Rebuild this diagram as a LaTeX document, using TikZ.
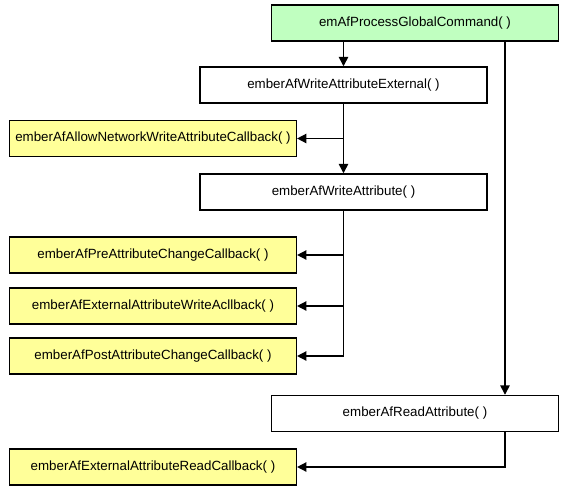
\documentclass[tikz,border=0pt]{standalone}
\usepackage{fontspec}
\setmainfont{Liberation Sans}
\usepackage{tikz}
\usetikzlibrary{arrows.meta}
\definecolor{cbgreen}{RGB}{192,255,192}
\definecolor{cbyellow}{RGB}{255,255,153}
\tikzstyle{fnbox} = [draw=black, line width=1.1pt, rectangle, minimum width=215pt, minimum height=27pt, inner sep=0pt, font=\fontsize{10}{12}\selectfont, fill=white]
\tikzstyle{cbbox} = [fnbox, fill=cbyellow]
\tikzstyle{link} = [draw=black, line width=1.1pt, -{Triangle[length=7pt,width=7pt]}]

\begin{document}
\begin{tikzpicture}[x=0.75pt, y=-0.75pt]
	\useasboundingbox (0,0) rectangle (565,490);
	% main calls
	\node [fnbox, fill=cbgreen] (global) at (415,23) {emAfProcessGlobalCommand( )};
	\node [fnbox] (writeext) at (343.5,85) {emberAfWriteAttributeExternal( )};
	\node [fnbox] (write) at (343.5,192) {emberAfWriteAttribute( )};
	\node [fnbox] (read) at (415,413.5) {emberAfReadAttribute( )};
	% callbacks
	\node [cbbox] (allow) at (153,138.5) {emberAfAllowNetworkWriteAttributeCallback( )};
	\node [cbbox] (pre) at (153,255) {emberAfPreAttributeChangeCallback( )};
	\node [cbbox] (extwrite) at (153,306) {emberAfExternalAttributeWriteAcllback( )};
	\node [cbbox] (post) at (153,356) {emberAfPostAttributeChangeCallback( )};
	\node [cbbox] (extread) at (153,467) {emberAfExternalAttributeReadCallback( )};
	% connectors
	\coordinate (gsplit) at (505,41);
	\draw [link] (global.south -| writeext.north) -- (writeext.north);
	\draw [link] (gsplit) -- (gsplit |- read.north);
	\draw [link] (writeext.south) -- (write.north);
	\draw [link] (writeext.south |- allow.east) -- (allow.east);
	\draw [line width=1.1pt] (write.south) -- (write.south |- post.east);
	\draw [link] (write.south |- pre.east) -- (pre.east);
	\draw [link] (write.south |- extwrite.east) -- (extwrite.east);
	\draw [link] (write.south |- post.east) -- (post.east);
	\draw [link] (gsplit |- read.south) |- (extread.east);
\end{tikzpicture}
\end{document}
